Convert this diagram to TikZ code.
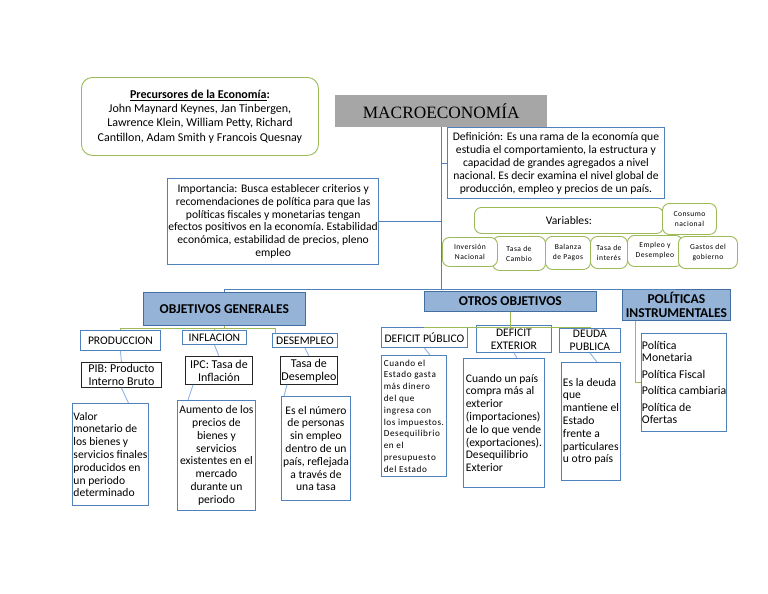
\documentclass[tikz,border=0pt]{standalone}
\usepackage{fontspec}
\setmainfont{Carlito}
\newfontfamily\titlefont{Liberation Serif}
\newfontfamily\spacedfont[LetterSpace=6]{Carlito}
\usetikzlibrary{positioning}
\definecolor{ofgreen}{HTML}{9BBB59}
\definecolor{ofblue}{HTML}{4F81BD}
\definecolor{hdfill}{HTML}{95B3D7}
\definecolor{lnblue}{HTML}{8DB4E2}
\definecolor{titlegray}{HTML}{A6A6A6}
\tikzset{
  greenbox/.style={draw=ofgreen,fill=white,rounded corners=7pt,line width=0.9pt,
    anchor=north west,align=center,inner sep=1pt},
  bluebox/.style={draw=ofblue,fill=white,line width=0.9pt,anchor=north west,
    align=center,inner sep=1pt},
  blackbox/.style={draw=black!85,fill=white,line width=0.9pt,anchor=north west,
    align=center,inner sep=1pt,font=\fontsize{12}{13}\selectfont},
  headbox/.style={draw=ofblue!85!black,fill=hdfill,line width=0.7pt,anchor=north west,
    align=center,inner sep=1pt,font=\fontsize{13.5}{14.5}\selectfont\bfseries},
  trunkln/.style={draw=ofblue,line width=0.8pt},
  greenln/.style={draw=ofgreen,line width=0.9pt},
  blueln/.style={draw=lnblue,line width=0.9pt},
}

\begin{document}
\begin{tikzpicture}[x=1pt,y=-1pt]
\def\tinyfont{\spacedfont\fontsize{7.6}{10}\selectfont}
\def\bodyfont{\fontsize{11.6}{12.8}\selectfont}
\useasboundingbox (0,0) rectangle (768,594);
% ---------- title and upper boxes ----------
\node[draw=none,fill=titlegray,anchor=north west,minimum width=212pt,minimum height=32pt,
  font=\titlefont\fontsize{17.3}{20}\selectfont] (macro) at (335,95) {MACROECONOMÍA};
\node[greenbox,minimum width=237pt,minimum height=78pt,rounded corners=11pt,
  font=\fontsize{12}{14.3}\selectfont] (prec) at (81,77)
  {\textbf{\underline{Precursores de la Economía}:}\\
   John Maynard Keynes, Jan Tinbergen,\\
   Lawrence Klein, William Petty, Richard\\
   Cantillon, Adam Smith y Francois Quesnay};
\node[bluebox,minimum width=217pt,minimum height=71pt,font=\fontsize{11.6}{13}\selectfont]
  (defin) at (447,127)
  {Definición: Es una rama de la economía que\\
   estudia el comportamiento, la estructura y\\
   capacidad de grandes agregados a nivel\\
   nacional.\ Es decir examina el nivel global de\\
   producción, empleo y precios de un país.};
\node[bluebox,minimum width=211pt,minimum height=86pt,font=\bodyfont] (impor) at (167,178)
  {Importancia: Busca establecer criterios y\\
   recomendaciones de política para que las\\
   políticas fiscales y monetarias tengan\\
   efectos positivos en la economía.\ Estabilidad\\
   económica, estabilidad de precios, pleno\\
   empleo};
% ---------- variables ----------
\node[greenbox,minimum width=189pt,minimum height=26pt,font=\bodyfont] (varia) at (474,207) {Variables:};
\node[greenbox,minimum width=54pt,minimum height=31pt,font=\tinyfont] (consumo) at (662,203) {Consumo\\nacional};
\node[greenbox,minimum width=53pt,minimum height=34pt,font=\tinyfont] (tcambio) at (492,236) {Tasa de\\Cambio};
\node[greenbox,minimum width=55pt,minimum height=29pt,font=\tinyfont] (inver) at (442,237) {Inversión\\Nacional};
\node[greenbox,minimum width=45pt,minimum height=33pt,font=\tinyfont] (balanza) at (545,236) {Balanza\\de Pagos};
\node[greenbox,minimum width=37pt,minimum height=32pt,font=\tinyfont] (tinteres) at (590,236) {Tasa de\\interés};
\node[greenbox,minimum width=55pt,minimum height=31pt,font=\tinyfont] (empleo) at (627,235) {Empleo y\\Desempleo};
\node[greenbox,minimum width=59pt,minimum height=32pt,font=\tinyfont] (gastos) at (678,236) {Gastos del\\gobierno};
% ---------- headings ----------
\node[headbox,minimum width=162pt,minimum height=33pt] (objgen) at (143,292) {OBJETIVOS GENERALES};
\node[headbox,minimum width=172pt,minimum height=20pt] (otros) at (424,291) {OTROS OBJETIVOS};
\node[headbox,minimum width=108pt,minimum height=31pt] (polit) at (622,289) {POLÍTICAS\\INSTRUMENTALES};
% ---------- objetivos generales ----------
\node[bluebox,minimum width=80pt,minimum height=20pt,font=\bodyfont] (prod) at (80,330) {PRODUCCION};
\node[bluebox,minimum width=64pt,minimum height=14pt,inner sep=0pt,font=\bodyfont] (infl) at (182,330) {INFLACION};
\node[bluebox,minimum width=65pt,minimum height=14pt,inner sep=0pt,font=\bodyfont] (desem) at (272,333) {DESEMPLEO};
\node[blackbox,minimum width=80pt,minimum height=25pt] (pib) at (81,362) {PIB: Producto\\Interno Bruto};
\node[blackbox,minimum width=67pt,minimum height=28pt] (ipc) at (185,356) {IPC: Tasa de\\Inflación};
\node[blackbox,minimum width=55pt,minimum height=28pt] (tasades) at (280,356) {Tasa de\\Desempleo};
\node[bluebox,minimum width=76pt,minimum height=102pt,align=left,font=\bodyfont] (valor) at (72,403)
  {Valor\\ monetario de\\ los bienes y\\ servicios finales\\ producidos en\\ un periodo\\ determinado};
\node[bluebox,minimum width=78pt,minimum height=110pt,font=\bodyfont] (aumento) at (177,400)
  {Aumento de los\\ precios de\\ bienes y\\ servicios\\ existentes en el\\ mercado\\ durante un\\ periodo};
\node[bluebox,minimum width=69pt,minimum height=104pt,inner sep=0pt,font=\bodyfont] (esnum) at (281,396)
  {Es el número\\ de personas\\ sin empleo\\ dentro de un\\ país, reflejada\\ a través de\\ una tasa};
% ---------- otros objetivos ----------
\node[bluebox,minimum width=86pt,minimum height=20pt,font=\bodyfont] (defpub) at (381,327) {DEFICIT PÚBLICO};
\node[bluebox,minimum width=75pt,minimum height=27pt,inner sep=0pt,font=\fontsize{11.6}{13}\selectfont] (defext) at (476,325) {DEFICIT\\EXTERIOR};
\node[bluebox,minimum width=61pt,minimum height=24pt,inner sep=0pt,font=\fontsize{11.6}{12.5}\selectfont] (deuda) at (559,328) {DEUDA\\PUBLICA};
\node[bluebox,minimum width=65pt,minimum height=121pt,align=left,
  font=\spacedfont\fontsize{9.2}{11.8}\selectfont] (cuando1) at (381,355)
  {Cuando el\\ Estado gasta\\ más dinero\\ del que\\ ingresa con\\ los impuestos.\\
   Desequilibrio\\ en el\\ presupuesto\\ del Estado};
\node[bluebox,minimum width=81pt,minimum height=129pt,align=left,font=\bodyfont] (cuando2) at (463,358)
  {Cuando un país\\ compra más al\\ exterior\\ (importaciones)\\ de lo que vende\\ (exportaciones).\\
   Desequilibrio\\ Exterior};
\node[bluebox,minimum width=59pt,minimum height=118pt,align=left,font=\bodyfont] (deudatxt) at (561,362)
  {Es la deuda\\ que\\ mantiene el\\ Estado\\ frente a\\ particulares\\ u otro país};
% ---------- politicas ----------
\node[bluebox,minimum width=85pt,minimum height=98pt,align=left,inner sep=0.5pt,font=\fontsize{11.8}{12.5}\selectfont] (polbox) at (641,333)
  {Política\\ Monetaria\\[4pt] Política Fiscal\\[4pt] Política cambiaria\\[4pt] Política de\\ Ofertas};
% ---------- connectors ----------
\coordinate (hub) at (macro.south |- 0,289);
\draw[trunkln] (macro.south) -- (hub);
\draw[trunkln] (hub) -| (objgen.north);
\draw[trunkln] (hub) -- (hub -| polit.north);
\draw[trunkln] (defin.west -| hub) -- (defin.west);
\draw[trunkln] (impor.east) -- (impor.east -| hub);
\coordinate (ogj) at (objgen.south |- 0,328);
\draw[greenln] (objgen.south) -- (ogj);
\draw[greenln] (ogj) -| (prod.north);
\draw[greenln] (ogj) -| (infl.north);
\draw[greenln] (ogj) -| ([xshift=3pt]desem.north west);
\coordinate (otj) at (otros.south |- 0,327);
\draw[greenln] (otros.south) -- (otj);
\draw[greenln] (otj) -| (defpub.north);
\draw[greenln] (otj) -| (deuda.north);
\draw[greenln] ([xshift=13pt]polit.south west) |- (polbox.west);
\draw[blueln] (prod.south) -- (pib.north);
\draw[blueln] (pib.south) -- ([xshift=18pt]valor.north);
\draw[blueln] (infl.south) -- (ipc.north);
\draw[blueln] ([xshift=8pt]ipc.south west) -- ([xshift=11pt]aumento.north west);
\draw[blueln] (desem.south) -- (tasades.north);
\draw[blueln] ([xshift=7pt]tasades.south west) -- ([xshift=3pt]esnum.north west);
\draw[blueln] (defpub.south) -- ([xshift=16pt]cuando1.north);
\draw[blueln] (defext.south) -- ([xshift=13pt]cuando2.north);
\draw[blueln] (deuda.south) -- ([xshift=6pt]deudatxt.north);
\end{tikzpicture}
\end{document}
